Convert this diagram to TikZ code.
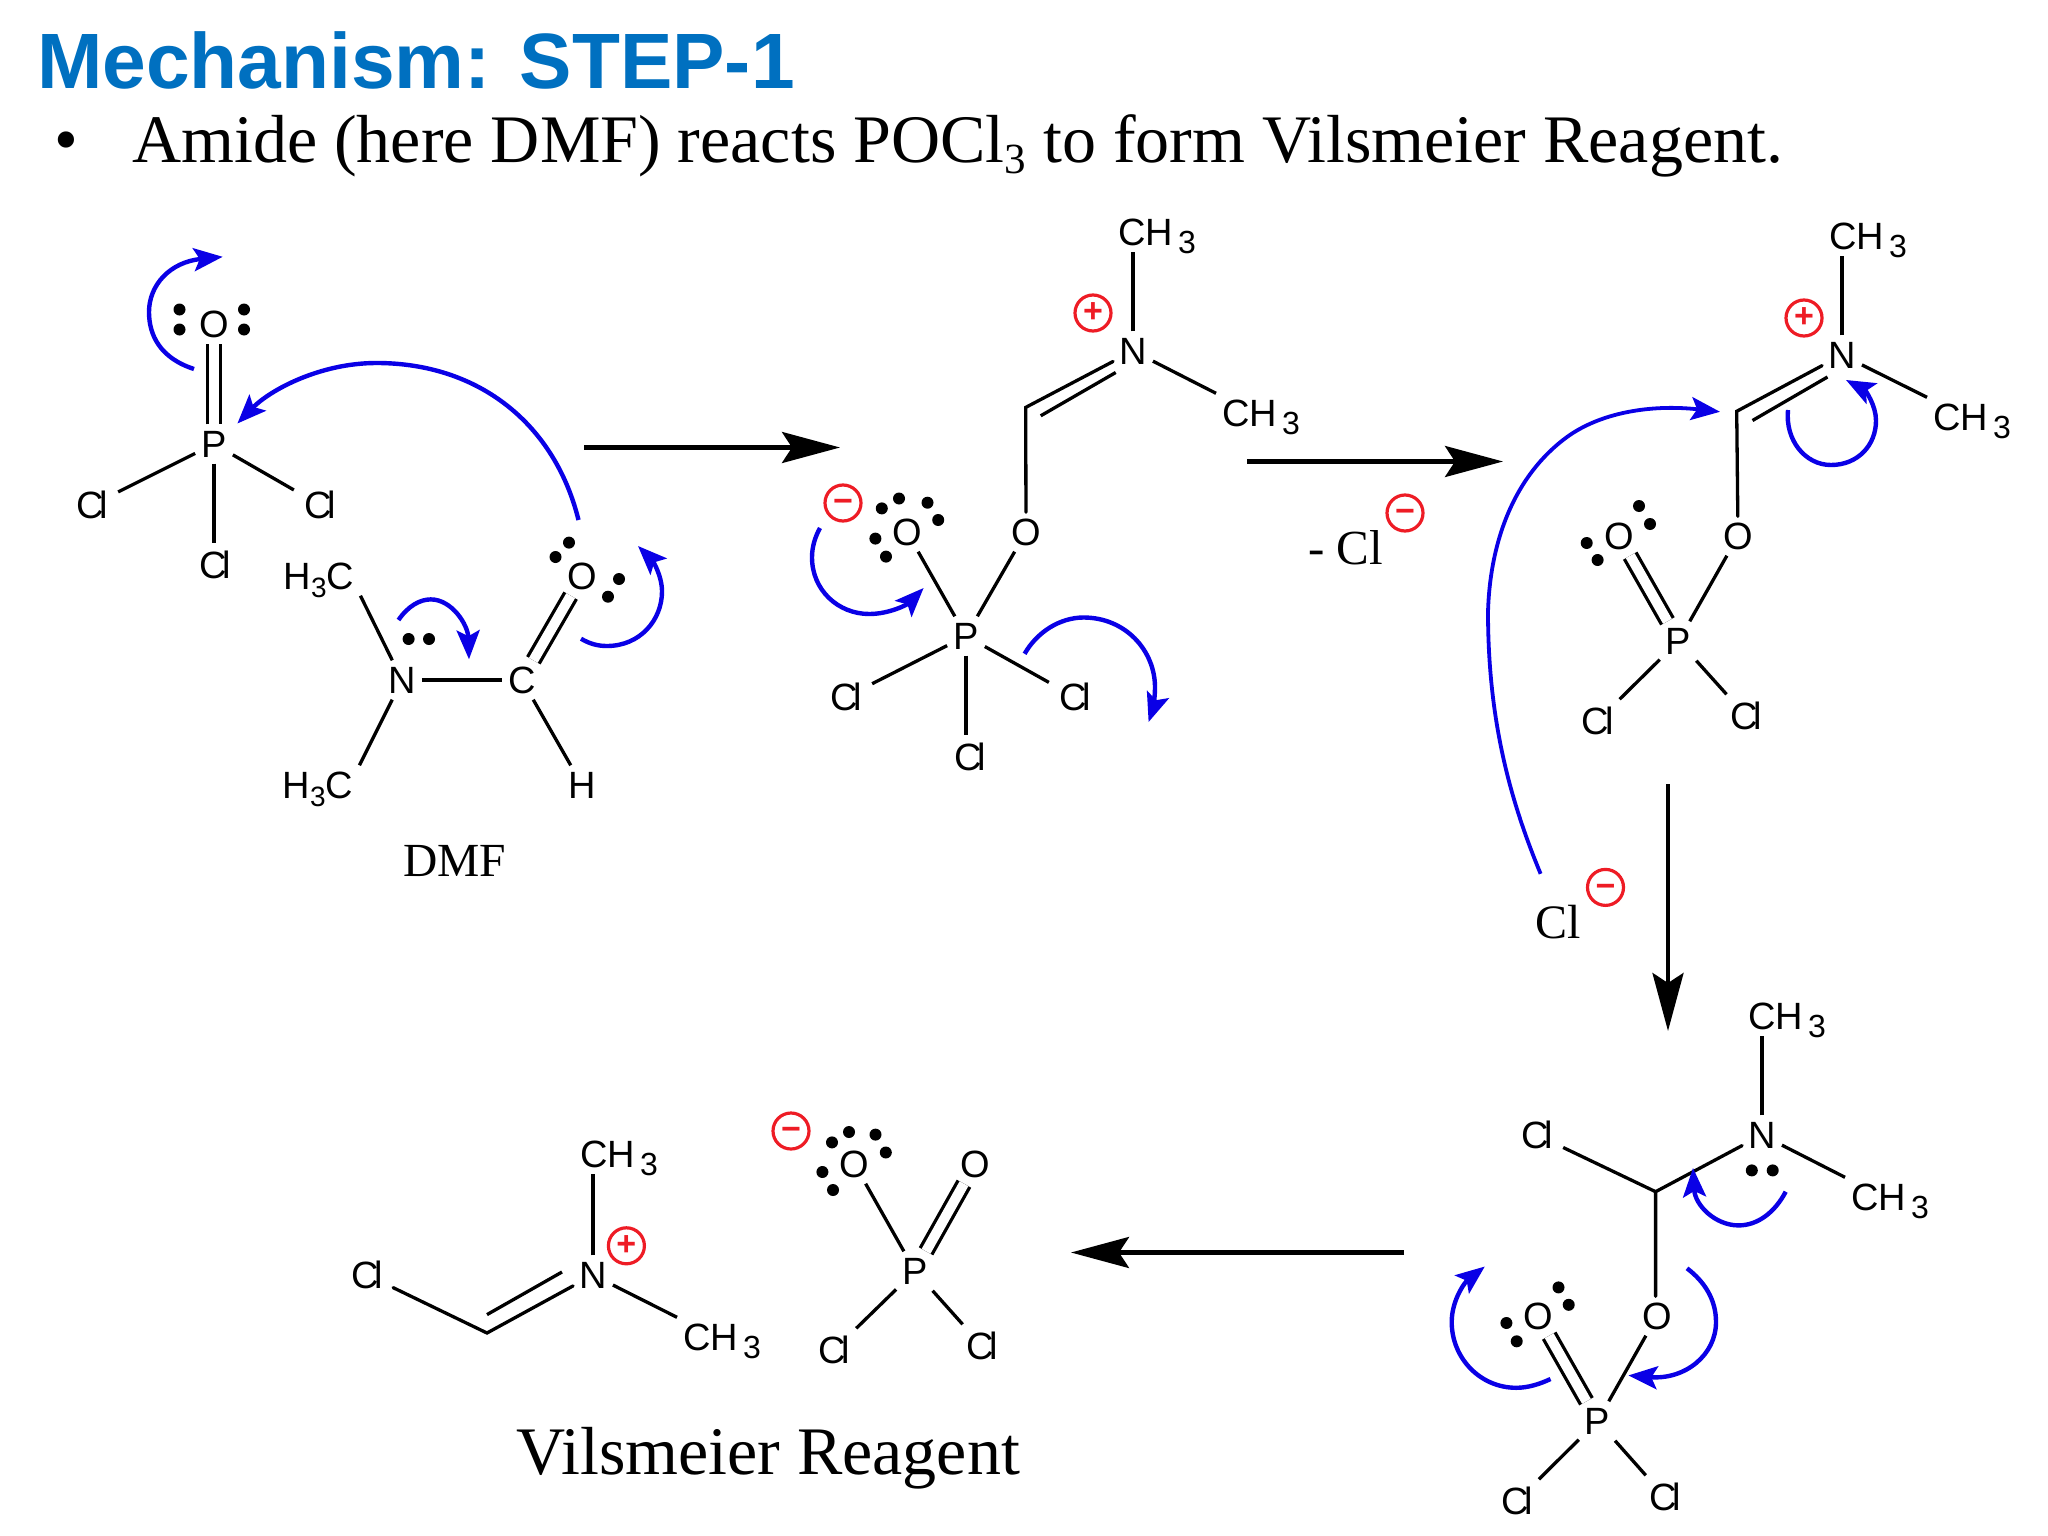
\documentclass[tikz,border=0pt]{standalone}
\usepackage{fontspec}
\setmainfont{Liberation Serif}
\newfontfamily\chemfam{Liberation Sans}
\usetikzlibrary{arrows.meta,calc}
\definecolor{titleblue}{HTML}{0070C0}
\definecolor{mechblue}{HTML}{0A00E6}
\definecolor{chargered}{HTML}{EE1C25}
\newcommand\Cl{C\kern-4pt l}
\newcommand\Me{CH\kern5pt\raisebox{-8pt}{\fontsize{32}{32}\selectfont 3}}
\newcommand\Hc{H\raisebox{-8pt}{\fontsize{28}{28}\selectfont 3}C}
\tikzset{
  atom/.style={font=\chemfam\fontsize{38}{40}\selectfont,inner sep=6pt,text height=27pt,text depth=0pt},
  clatom/.style={atom,inner xsep=10pt,inner ysep=8pt},
  methyl/.style={atom,anchor=west},
  bond/.style={line width=3.3pt,black},
  dbl/.style={line width=3.3pt,double=white,double distance=10pt,draw=black},
  react/.style={line width=4.2pt,black,-{Stealth[length=58pt,width=31pt,inset=10pt]}},
  curly/.style={line width=4.4pt,mechblue,-{Stealth[length=29pt,width=23pt,inset=6pt]}},
  plusc/.style={circle,draw=chargered,line width=3.2pt,minimum size=36pt,inner sep=0pt,text=chargered,font=\chemfam\bfseries\fontsize{34}{34}\selectfont},
  serif/.style={inner sep=0pt,anchor=base west,font=\fontsize{68}{72}\selectfont},
}
\begin{document}
\begin{tikzpicture}[x=1pt,y=-1pt]
\path[use as bounding box,fill=white] (0,0) rectangle (2048,1536);
% headings
\node[inner sep=0pt,anchor=base west,font=\chemfam\bfseries\fontsize{78.5}{84}\selectfont,text=titleblue] (title) at (37,89) {Mechanism: STEP-1};
\node[serif] (bullet) at (54,162) {•};
\node[serif] (line) at (132,162) {Amide (here DMF) reacts POCl\raisebox{-11pt}{\fontsize{43}{43}\selectfont 3} to form Vilsmeier Reagent.};
\node[serif] (vilsmeier) at (516,1474) {Vilsmeier Reagent};
\node[serif,font=\fontsize{47.5}{50}\selectfont,anchor=base] (dmf) at (454.5,876) {DMF};
\node[serif,font=\fontsize{49}{50}\selectfont] (mcl) at (1308,564) {- Cl};
\node[serif,font=\fontsize{48}{50}\selectfont] (freecl) at (1535,938) {Cl};
% reaction arrows
\coordinate (ra1s) at (584,447.5); \coordinate (ra1e) at (840,447.5);
\coordinate (ra2s) at (1247,461.5); \coordinate (ra2e) at (1503,461.5);
\coordinate (ra3s) at (1668,784); \coordinate (ra3e) at (1668,1031);
\coordinate (ra4s) at (1404,1252.5); \coordinate (ra4e) at (1071,1252.5);
\draw[react] (ra1s)--(ra1e);
\draw[react] (ra2s)--(ra2e);
\draw[react] (ra3s)--(ra3e);
\draw[react] (ra4s)--(ra4e);
% POCl3
\node[atom] (aO) at (214,324) {O};
\node[atom] (aP) at (214,444) {P};
\node[clatom] (aCl1) at (92,505) {\Cl};
\node[clatom] (aCl2) at (320,505) {\Cl};
\node[clatom] (aCl3) at (215,565) {\Cl};
\draw[dbl] (aP)--(aO);
\draw[bond] (aP)--(aCl1);
\draw[bond] (aP)--(aCl2);
\draw[bond] (aP)--(aP |- aCl3.north);
% DMF
\node[atom] (bN) at (402,680) {N};
\node[atom] (bC) at (522,680) {C};
\node[atom] (bO) at (582,576) {O};
\node[atom] (bH) at (582,785) {H};
\node[atom] (bMe1) at (319,576) {\Hc};
\node[atom] (bMe2) at (318,785) {\Hc};
\draw[bond] (bN)--(bC);
\draw[dbl] (bC)--(bO);
\draw[bond] (bC)--(bH);
\draw[bond] (bN)--(bMe1.south east);
\draw[bond] (bN)--(bMe2.north east);
% intermediate 1
\node[atom] (cN) at (1133,351) {N};
\node[methyl] (cMe1) at (1112,232) {\Me};
\node[methyl] (cMe2) at (1216,413) {\Me};
\coordinate (cCH) at (1025.7,407.4);
\coordinate (cd1) at (1040.7,415.8); \coordinate (cd2) at (1115.7,372.5);
\node[atom] (cO1) at (1026,532) {O};
\node[atom] (cO2) at (907,532) {O};
\node[atom] (cP) at (966,636) {P};
\node[clatom] (cCl1) at (846,697) {\Cl};
\node[clatom] (cCl2) at (1075,697) {\Cl};
\node[clatom] (cCl3) at (970,757) {\Cl};
\draw[bond] (cN)--(cN |- cMe1.south);
\draw[bond] (cN)--(cMe2.north west);
\draw[bond,line cap=round] (cN)--(cCH)--(cO1);
\draw[bond] (cd1)--(cd2);
\draw[bond] (cO1)--(cP);
\draw[bond] (cO2)--(cP);
\draw[bond] (cP)--(cCl1);
\draw[bond] (cP)--(cCl2);
\draw[bond] (cP)--(cP |- cCl3.north);
% intermediate 2
\node[atom] (dN) at (1842,355) {N};
\node[methyl] (dMe1) at (1823,236) {\Me};
\node[methyl] (dMe2) at (1927,417) {\Me};
\coordinate (dCH) at (1736.7,411.3);
\coordinate (dd1) at (1752.5,420.5); \coordinate (dd2) at (1827.5,377);
\node[atom] (dO1) at (1738,536) {O};
\node[atom] (dO2) at (1619,536) {O};
\node[atom] (dP) at (1678.6,641) {P};
\node[clatom] (dCl1) at (1597.6,721) {\Cl};
\node[clatom] (dCl2) at (1746,716) {\Cl};
\draw[bond] (dN)--(dN |- dMe1.south);
\draw[bond] (dN)--(dMe2.north west);
\draw[bond,line cap=round] (dN)--(dCH)--(dO1);
\draw[bond] (dd1)--(dd2);
\draw[dbl] (dO2)--(dP);
\draw[bond] (dO1)--(dP);
\draw[bond] (dP)--(dCl1);
\draw[bond] (dP)--(dCl2);
% intermediate 3
\node[atom] (eN) at (1762,1135) {N};
\node[methyl] (eMe1) at (1742,1016) {\Me};
\node[methyl] (eMe2) at (1845,1197) {\Me};
\node[clatom] (eCl0) at (1537,1135) {\Cl};
\coordinate (eCH) at (1655.6,1191.7);
\node[atom] (eO1) at (1657,1316) {O};
\node[atom] (eO2) at (1538,1316) {O};
\node[atom] (eP) at (1597.6,1421) {P};
\node[clatom] (eCl1) at (1517,1501) {\Cl};
\node[clatom] (eCl2) at (1665,1497) {\Cl};
\draw[bond] (eN)--(eN |- eMe1.south);
\draw[bond] (eN)--(eMe2.north west);
\draw[bond,line cap=round] (eN)--(eCH)--(eCH |- eO1.north);
\draw[bond] (eCl0)--(eCH);
\draw[dbl] (eO2)--(eP);
\draw[bond] (eO1)--(eP);
\draw[bond] (eP)--(eCl1);
\draw[bond] (eP)--(eCl2);
% products
\node[atom] (fN) at (593,1275) {N};
\node[methyl] (fMe1) at (574,1154) {\Me};
\node[methyl] (fMe2) at (677,1337) {\Me};
\node[clatom] (fCl) at (367,1275) {\Cl};
\coordinate (fCH) at (487,1333);
\coordinate (fd1) at (487,1314.6); \coordinate (fd2) at (562,1272);
\draw[bond] (fN)--(fN |- fMe1.south);
\draw[bond] (fN)--(fMe2.north west);
\draw[bond,line cap=round] (fCl)--(fCH)--(fN);
\draw[bond] (fd1)--(fd2);
\node[atom] (gO1) at (854.5,1164) {O};
\node[atom] (gO2) at (975,1164) {O};
\node[atom] (gP) at (915,1271) {P};
\node[clatom] (gCl1) at (834,1350) {\Cl};
\node[clatom] (gCl2) at (982,1346) {\Cl};
\draw[bond] (gO1)--(gP);
\draw[dbl] (gP)--(gO2);
\draw[bond] (gP)--(gCl1);
\draw[bond] (gP)--(gCl2);
% lone pairs
\foreach \p in {(179.5,309.5),(179.5,329.5),(244,309.5),(244,329.5),
  (408.6,639),(429,639),(569,542.6),(555.5,557),(619,579),(608,596.7),
  (881.8,508.4),(899,498.5),(927.5,502.7),(938.2,520),(875.4,538.6),(886,556.6),
  (1639,506),(1650,524),(1586.7,543),(1597.6,560),
  (1751.8,1170.4),(1772.7,1170.4),(1558.5,1287.4),(1568.7,1304.8),(1506.4,1323),(1516.7,1341.3),
  (832,1142.4),(849,1132),(875.5,1134.6),(885.8,1152.5),(822.4,1172),(833,1190)}
  \fill[black] \p circle (6);
% charges
\node[plusc] (q1) at (1093,313) {+};
\node[plusc] (q2) at (843,503) {\vphantom{+}−};
\node[plusc] (q3) at (1405,513) {\vphantom{+}−};
\node[plusc] (q4) at (1804,318) {+};
\node[plusc] (q5) at (1605.5,887.4) {\vphantom{+}−};
\node[plusc] (q6) at (626.4,1245.8) {+};
\node[plusc] (q7) at (791,1131) {\vphantom{+}−};
% curly arrows
\coordinate (m1s) at (194,369); \coordinate (m1e) at (222.7,256.8);
\draw[curly] (m1s) .. controls (160,358) and (149,335) .. (149,312) .. controls (149,285) and (170,262) .. (m1e);
\coordinate (m2s) at (578.5,520); \coordinate (m2e) at (237.4,423.5);
\draw[curly] (m2s) .. controls (555,425) and (480,363) .. (376.5,363) .. controls (320,363) and (270,390) .. (m2e);
\coordinate (m3s) at (398.5,620); \coordinate (m3e) at (469,659.3);
\draw[curly] (m3s) .. controls (408,606) and (420,599.4) .. (430.7,599.4) .. controls (452,599.4) and (468,625) .. (m3e);
\coordinate (m4s) at (581,638.7); \coordinate (m4e) at (638,546);
\draw[curly] (m4s) .. controls (590,644) and (598,646) .. (607,646) .. controls (640,646) and (662,620) .. (662,591.5) .. controls (662,575) and (652,560) .. (m4e);
\coordinate (m5s) at (820,528); \coordinate (m5e) at (923.6,588);
\draw[curly] (m5s) .. controls (815,537) and (812,547) .. (812,557.4) .. controls (812,590) and (838,614) .. (869.3,614) .. controls (890,614) and (908,604) .. (m5e);
\coordinate (m6s) at (1024.6,653.8); \coordinate (m6e) at (1148.6,722);
\draw[curly] (m6s) .. controls (1037,632) and (1060,617.5) .. (1083.6,617.5) .. controls (1125,617.5) and (1155,650) .. (1155,687.5) .. controls (1155,700) and (1152,712) .. (m6e);
\coordinate (m7s) at (1540.6,873.8); \coordinate (m7e) at (1720,411.8);
\draw[curly,line width=3.8pt] (m7s) .. controls (1510,800) and (1488,720) .. (1488,612) .. controls (1490,540) and (1515,475) .. (1567,437) .. controls (1600,413) and (1650,404) .. (m7e);
\coordinate (m8s) at (1788,410); \coordinate (m8e) at (1846,380);
\draw[curly] (m8s) .. controls (1785,440) and (1805,465) .. (1831,465) .. controls (1858,465) and (1876,445) .. (1876,420.6) .. controls (1876,405) and (1865,390) .. (m8e);
\coordinate (m9s) at (1785.7,1191.7); \coordinate (m9e) at (1693,1168);
\draw[curly] (m9s) .. controls (1775,1212) and (1758,1225.4) .. (1738.6,1225.4) .. controls (1715,1225.4) and (1695,1205) .. (m9e);
\coordinate (m10s) at (1687,1268.3); \coordinate (m10e) at (1628.4,1375.4);
\draw[curly] (m10s) .. controls (1705,1282) and (1716,1300) .. (1716,1322) .. controls (1716,1355) and (1685,1380) .. (m10e);
\coordinate (m11s) at (1550.5,1379); \coordinate (m11e) at (1484.8,1266.5);
\draw[curly] (m11s) .. controls (1540,1384) and (1528,1387.8) .. (1516.3,1387.8) .. controls (1480,1387.8) and (1451.7,1358) .. (1451.7,1322) .. controls (1451.7,1300) and (1465,1282) .. (m11e);
\end{tikzpicture}
\end{document}
